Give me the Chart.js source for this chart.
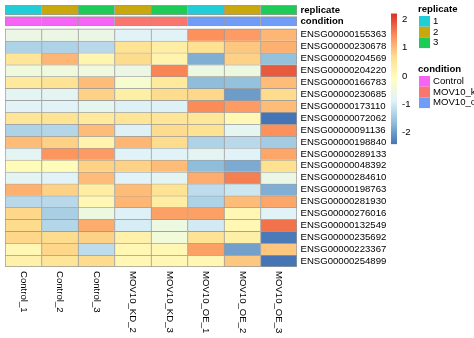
<!DOCTYPE html>
<html>
<head>
<meta charset="utf-8">
<script src="https://cdn.jsdelivr.net/npm/chart.js@4"></script>
<style>
  html, body { margin: 0; padding: 0; background: #fff; }
  canvas { display: block; }
</style>
</head>
<body>
<canvas id="heatmap" width="474" height="338"></canvas>
<script>
const genes = [
  "ENSG00000155363", "ENSG00000230678", "ENSG00000204569", "ENSG00000204220",
  "ENSG00000166783", "ENSG00000230685", "ENSG00000173110", "ENSG00000072062",
  "ENSG00000091136", "ENSG00000198840", "ENSG00000289133", "ENSG00000048392",
  "ENSG00000284610", "ENSG00000198763", "ENSG00000281930", "ENSG00000276016",
  "ENSG00000132549", "ENSG00000235692", "ENSG00000223367", "ENSG00000254899"
];
const samples = ["Control_1", "Control_2", "Control_3", "MOV10_KD_2", "MOV10_KD_3", "MOV10_OE_1", "MOV10_OE_2", "MOV10_OE_3"];
const replicate = ["1", "2", "3", "2", "3", "1", "2", "3"];
const condition = ["Control", "Control", "Control", "MOV10_knockdown", "MOV10_knockdown",
  "MOV10_overexpression", "MOV10_overexpression", "MOV10_overexpression"];

// row z-scores, one row per gene, columns in sample order
const zScores = [
  [-0.6, -0.6, -0.6, -0.85, -0.85, 1.4, 1.3, 1.05],
  [-1.35, -1.35, -1.25, 0.6, 0.35, 0.65, 0.9, 1.1],
  [0.55, 1.05, 0.15, 0.7, 0.2, -1.8, 0.8, -1.6],
  [-0.5, -0.5, -0.5, -0.6, 1.5, -0.55, -0.55, 1.85],
  [0.45, 0.6, 1.0, -0.3, 0.45, -1.65, -1.6, 1.0],
  [-0.8, -0.8, 0.8, 0.3, 0.7, 0.75, -2.0, 0.7],
  [-0.85, -0.85, -0.75, -0.9, -0.9, 1.45, 1.3, 1.0],
  [0.55, 0.6, 0.45, 0.55, 0.55, 0.5, 0.1, -2.4],
  [-1.35, -1.3, 1.0, -0.9, 0.7, 0.6, -0.75, 1.4],
  [1.0, 0.8, 0.2, 1.05, 0.7, -1.35, -1.25, -1.45],
  [-0.8, 1.35, 1.3, -0.85, -0.85, -0.8, -0.85, 1.2],
  [0.0, 0.0, 0.8, 0.8, 1.0, -1.65, -1.85, 0.65],
  [-0.8, -0.85, 1.0, -0.85, -0.8, 1.15, 1.55, -0.6],
  [1.1, 0.8, 0.35, 1.0, 0.6, -1.2, -1.05, -1.8],
  [-1.25, -1.25, 0.1, 1.05, 0.35, -1.35, 1.0, 1.2],
  [0.75, -1.4, -0.55, -0.9, 1.25, 1.25, 0.1, -0.85],
  [0.7, -1.3, 1.15, -0.95, -0.55, -1.0, 0.1, 1.65],
  [0.75, 0.7, 0.8, 0.25, -0.45, 0.6, 0.3, -2.35],
  [0.1, 0.75, -1.2, 0.1, 0.1, 1.25, -1.95, 0.9],
  [0.25, 0.55, 0.7, 0.1, 0.1, 0.1, 0.9, -2.4]
];
const colorTicks = [2, 1, 0, -1, -2];

// rev(RdYlBu, 7), spread over the data range
const palette = ["#4575B4", "#91BFDB", "#E0F3F8", "#FFFFBF", "#FEE090", "#FC8D59", "#D73027"];
const VMIN = -2.4, VMAX = 2.2;
const replicateColors = { "1": "#1FCED6", "2": "#C9A80E", "3": "#1DCB57" };
const conditionColors = { "Control": "#F564F5", "MOV10_knockdown": "#F8766D", "MOV10_overexpression": "#6F9CF6" };

const FONT = "'Liberation Sans', Arial, sans-serif";
const REP_BAND = [-1.97, -1.17];
const COND_BAND = [-1.02, -0.25];

function hexToRgb(h) {
  return [parseInt(h.slice(1, 3), 16), parseInt(h.slice(3, 5), 16), parseInt(h.slice(5, 7), 16)];
}
function valueColor(v) {
  let t = (v - VMIN) / (VMAX - VMIN);
  t = Math.max(0, Math.min(1, t)) * (palette.length - 1);
  const i = Math.min(Math.floor(t), palette.length - 2);
  const f = t - i;
  const a = hexToRgb(palette[i]), b = hexToRgb(palette[i + 1]);
  const c = a.map((x, k) => Math.round(x + (b[k] - x) * f));
  return "rgb(" + c.join(",") + ")";
}

const nRows = genes.length;
const nCols = samples.length;

function cellBorder(ctx) {
  const last = ctx.dataIndex === nCols - 1;
  const bottom = ctx.dataset.isLastRow;
  return { top: 1, left: 1, right: last ? 1 : 0, bottom: bottom ? 1 : 0 };
}

const datasets = [];
datasets.push({
  label: "replicate",
  data: samples.map(() => REP_BAND),
  backgroundColor: replicate.map(r => replicateColors[r]),
  isLastRow: true
});
datasets.push({
  label: "condition",
  data: samples.map(() => COND_BAND),
  backgroundColor: condition.map(c => conditionColors[c]),
  isLastRow: true
});
genes.forEach((g, i) => {
  datasets.push({
    label: g,
    data: samples.map(() => [i, i + 1]),
    backgroundColor: zScores[i].map(valueColor),
    isLastRow: i === nRows - 1
  });
});

const heatmapText = {
  id: "heatmapText",
  afterDraw(chart) {
    const { ctx, chartArea, scales } = chart;
    const xs = scales.x, ys = scales.y;
    ctx.save();
    ctx.fillStyle = "#000";
    ctx.textBaseline = "middle";
    ctx.textAlign = "left";

    // gene names
    ctx.font = "9.6px " + FONT;
    genes.forEach((g, i) => {
      ctx.fillText(g, chartArea.right + 3.5, ys.getPixelForValue(i + 0.5));
    });

    // annotation track names
    ctx.font = "bold 9.6px " + FONT;
    ctx.fillText("replicate", chartArea.right + 3.5, ys.getPixelForValue((REP_BAND[0] + REP_BAND[1]) / 2));
    ctx.fillText("condition", chartArea.right + 3.5, ys.getPixelForValue((COND_BAND[0] + COND_BAND[1]) / 2));

    // sample names, rotated
    ctx.font = "9.6px " + FONT;
    samples.forEach((s, j) => {
      ctx.save();
      ctx.translate(xs.getPixelForValue(j), chartArea.bottom + 4);
      ctx.rotate(Math.PI / 2);
      ctx.fillText(s, 0, 0);
      ctx.restore();
    });

    // colour key
    const cbY = v => 76 - 28.4 * v;
    const top = cbY(VMAX), bot = cbY(VMIN);
    const grad = ctx.createLinearGradient(0, bot, 0, top);
    palette.forEach((c, k) => grad.addColorStop(k / (palette.length - 1), c));
    ctx.fillStyle = grad;
    ctx.fillRect(391, top, 6, bot - top);
    ctx.fillStyle = "#000";
    colorTicks.forEach(t => ctx.fillText(String(t), 402, cbY(t)));

    // annotation legends
    function legend(title, keys, colors, y0) {
      ctx.font = "bold 9.6px " + FONT;
      ctx.fillStyle = "#000";
      ctx.fillText(title, 418, y0);
      ctx.font = "9.6px " + FONT;
      keys.forEach((k, i) => {
        const by = y0 + 6.7 + i * 10.7;
        ctx.fillStyle = colors[k];
        ctx.fillRect(419, by, 11, 10.7);
        ctx.fillStyle = "#000";
        ctx.fillText(k, 433, by + 5.4);
      });
    }
    legend("replicate", ["1", "2", "3"], replicateColors, 9.3);
    legend("condition", ["Control", "MOV10_knockdown", "MOV10_overexpression"], conditionColors, 69.3);
    ctx.restore();
  }
};

new Chart(document.getElementById("heatmap").getContext("2d"), {
  type: "bar",
  data: { labels: samples, datasets: datasets },
  options: {
    responsive: false,
    animation: false,
    devicePixelRatio: 1,
    layout: { padding: { left: 5, right: 177, top: 5, bottom: 71 } },
    datasets: {
      bar: {
        grouped: false,
        barPercentage: 1,
        categoryPercentage: 1,
        borderColor: "#999999",
        borderSkipped: false,
        borderWidth: cellBorder
      }
    },
    scales: {
      x: { type: "category", display: false, offset: true },
      y: { type: "linear", display: false, min: -2, max: 20, reverse: true }
    },
    plugins: {
      legend: { display: false },
      tooltip: { enabled: false }
    }
  },
  plugins: [heatmapText]
});
</script>
</body>
</html>
